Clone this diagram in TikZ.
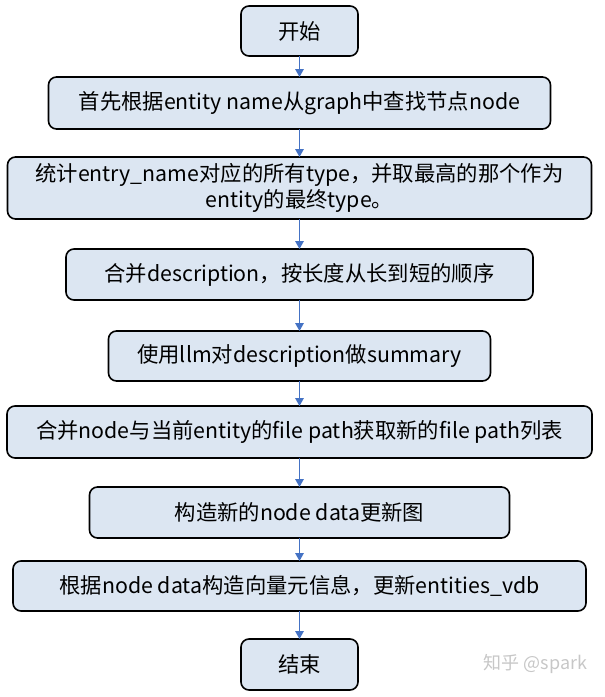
\documentclass[tikz,border=0pt]{standalone}
\usepackage{fontspec}
\setmainfont{Noto Sans CJK SC}
\usepackage{xcolor}
\usetikzlibrary{positioning, arrows.meta}

\definecolor{boxfill}{HTML}{DCE6F2}
\definecolor{arrowblue}{HTML}{4472C4}

\begin{document}
\begin{tikzpicture}[
        x=0.75pt, y=-0.75pt,
        box/.style={draw, rectangle, rounded corners=6pt, line width=1.2pt, outer sep=0pt, fill=boxfill, align=center, minimum height=37.5pt, inner sep=2pt, font=\fontsize{16}{19.5}\selectfont},
        arrow/.style={-{Triangle[width=6.5pt,length=6pt]}, draw=arrowblue, fill=arrowblue, line width=0.8pt}
    ]

    % page size
    \useasboundingbox (0,0) rectangle (605,697);

    % Start
    \node[box, minimum width=87.75pt] (start) at (299.5,31) {开始};

    % Steps
    \node[box, minimum width=376.5pt, minimum height=39pt] (lookup) [below=15.75pt of start] {首先根据entity name从graph中查找节点node};
    \node[box, minimum width=438pt, minimum height=46.5pt] (type) [below=21pt of lookup] {统计entry\_name对应的所有type，并取最高的那个作为\\entity的最终type。};
    \node[box, minimum width=350.25pt, minimum height=38.25pt] (merge) [below=22.5pt of type] {合并description，按长度从长到短的顺序};
    \node[box, minimum width=286.5pt] (summary) [below=23.25pt of merge] {使用llm对description做summary};
    \node[box, minimum width=438.75pt, minimum height=39pt] (path) [below=18.75pt of summary] {合并node与当前entity的file path获取新的file path列表};
    \node[box, minimum width=315pt, minimum height=38.25pt] (update) [below=21.75pt of path] {构造新的node data更新图};
    \node[box, minimum width=429.75pt] (vdb) [below=17.25pt of update] {根据node data构造向量元信息，更新entities\_vdb};

    % End
    \node[box, minimum width=87.75pt, minimum height=38.25pt] (end) [below=21pt of vdb] {结束};

    % Watermark
    \node[text=black!22, font=\fontsize{13.5}{16}\selectfont, anchor=east] (mark) at (592,664) {知乎 @spark};

    % Connectors
    \draw [arrow] (start) -- (lookup);
    \draw [arrow] (lookup) -- (type);
    \draw [arrow] (type) -- (merge);
    \draw [arrow] (merge) -- (summary);
    \draw [arrow] (summary) -- (path);
    \draw [arrow] (path) -- (update);
    \draw [arrow] (update) -- (vdb);
    \draw [arrow] (vdb) -- (end);

\end{tikzpicture}
\end{document}
